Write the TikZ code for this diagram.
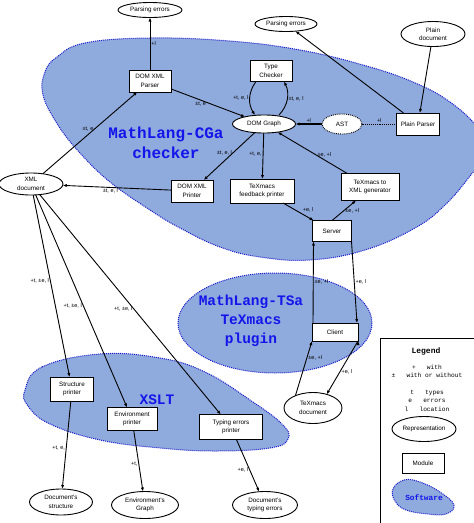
\documentclass[tikz,border=0pt]{standalone}
\usepackage{fontspec}
\setmainfont{Liberation Sans}
\newfontfamily\blobfont{Liberation Mono}
\usepackage{xcolor}
\usetikzlibrary{shapes.geometric,arrows.meta}

\definecolor{blobfill}{RGB}{143,170,220}
\definecolor{blobline}{RGB}{25,25,205}
\definecolor{blobtext}{RGB}{20,20,235}

\begin{document}
\begin{tikzpicture}[x=1pt,y=-1pt,
  rep_node/.style 2 args={ellipse,draw,fill=white,line width=0.9pt,inner sep=0pt,outer sep=0pt,
    minimum width=#1,minimum height=#2,align=center,font=\fontsize{6.3}{8.5}\selectfont},
  mod_node/.style 2 args={rectangle,draw,fill=white,line width=0.9pt,inner sep=0pt,outer sep=0pt,
    minimum width=#1,minimum height=#2,align=center,font=\fontsize{6.3}{8.5}\selectfont},
  soft_blob/.style={draw=blobline,fill=blobfill,densely dotted,line width=1pt},
  blob_text/.style 2 args={text=blobtext,align=center,font=\blobfont\bfseries\fontsize{#1}{#2}\selectfont},
  conn/.style={-{Latex[length=4pt,width=3.2pt]},line width=0.9pt},
  lbl/.style={font=\fontsize{5.5}{6}\selectfont,inner sep=1pt}]

    \clip (0,0) rectangle (474,523);

    % software areas
    \path[soft_blob] plot[smooth cycle,tension=0.7] coordinates {
      (57,57) (85,43) (150,38) (230,41) (300,50) (363,65) (413,82) (450,102)
      (478,128) (488,150) (470,176) (445,205) (415,228) (365,250) (310,260)
      (260,257) (220,247) (180,228) (150,210) (110,182) (80,153) (58,125) (43,95) (45,72)};
    \path[soft_blob] (275,323) ellipse[x radius=97, y radius=50];
    \path[soft_blob] plot[smooth cycle,tension=0.7] coordinates {
      (25,390) (42,367) (100,354) (160,358) (205,372) (250,400) (282,424) (288,439)
      (270,448) (215,451) (160,448) (100,440) (50,424) (28,406)};

    \node[blob_text={16}{20}] (cga_name) at (166,143) {MathLang-CGa\\checker};
    \node[blob_text={14.5}{19}] (tsa_name) at (251,321) {MathLang-TSa\\TeXmacs\\plugin};
    \node[blob_text={14.5}{19}] (xslt_name) at (157,400) {XSLT};

    % representations and modules
    \node[rep_node={64pt}{15pt}] (parse_err_l) at (150,10) {Parsing errors};
    \node[rep_node={62pt}{15pt}] (parse_err_r) at (286,24) {Parsing errors};
    \node[rep_node={64pt}{25pt}] (plain_doc) at (433,34) {Plain\\document};
    \node[mod_node={42pt}{22pt}] (dom_parser) at (150,81) {DOM XML\\Parser};
    \node[mod_node={42pt}{21pt}] (type_check) at (271,71) {Type\\Checker};
    \node[rep_node={63pt}{18pt}] (dom_graph) at (264,124) {DOM Graph};
    \node[rep_node={40pt}{20pt},densely dotted] (ast) at (342,124) {AST};
    \node[mod_node={43pt}{22pt}] (plain_parser) at (418,124) {Plain Parser};
    \node[rep_node={64pt}{22pt}] (xml_doc) at (31,184) {XML\\document};
    \node[mod_node={42pt}{22pt}] (dom_printer) at (192,191) {DOM XML\\Printer};
    \node[mod_node={64pt}{24pt}] (feedback) at (262,191) {TeXmacs\\feedback printer};
    \node[mod_node={58pt}{27pt}] (xml_gen) at (370,187) {TeXmacs to\\XML generator};
    \node[mod_node={39pt}{21pt}] (server) at (332,231) {Server};
    \node[mod_node={46pt}{18pt}] (client) at (335,332) {Client};
    \node[rep_node={58pt}{31pt}] (texmacs_doc) at (313,408) {TeXmacs\\document};
    \node[mod_node={43pt}{24pt}] (struct_pr) at (72,389) {Structure\\printer};
    \node[mod_node={50pt}{23pt}] (env_pr) at (132,419) {Environment\\printer};
    \node[mod_node={63pt}{25pt}] (typing_pr) at (231,427) {Typing errors\\printer};
    \node[rep_node={63pt}{26pt}] (doc_struct) at (61,502) {Document's\\structure};
    \node[rep_node={67pt}{27pt}] (env_graph) at (145,505) {Environment's\\Graph};
    \node[rep_node={65pt}{27pt}] (doc_typing) at (265,505) {Document's\\typing errors};

    \path[draw, conn]
    (dom_parser) edge node[lbl,right] {+l} (parse_err_l)
    (xml_doc) edge node[lbl,left,pos=.55] {±t, e} (dom_parser)
    (dom_parser) edge node[lbl,below,pos=.4] {±t, e} (dom_graph)
    ([xshift=-15pt]type_check.south) edge[bend right=35] node[lbl,left] {+t, e, l} ([xshift=-9pt]dom_graph.north)
    ([xshift=15pt]dom_graph.north) edge[bend right=35] node[lbl,right] {±t, e, l} ([xshift=13pt]type_check.south)
    (ast) edge[line width=1.5pt] node[lbl,above] {+l} (dom_graph)
    (plain_parser) edge[densely dotted,-] node[lbl,above] {+l} (ast)
    (plain_doc) edge (plain_parser)
    (plain_parser) edge (parse_err_r)
    (dom_graph) edge node[lbl,left,pos=.42] {±t, e, l} (dom_printer)
    (dom_graph) edge node[lbl,left,pos=.45] {+t, e,} (feedback)
    (xml_gen) edge node[lbl,above=1pt,pos=.33] {±e, +l} (dom_graph)
    (dom_printer) edge node[lbl,below,pos=.56] {±t, e, l} (xml_doc)
    (feedback) edge node[lbl,above right,pos=.6] {+e, l} (server)
    (server.north) edge node[lbl,right] {±e, +l} ([xshift=-14pt]xml_gen.south)
    ([xshift=1pt]client.north west) edge node[lbl,right] {±e, +l} ([xshift=1pt]server.south west)
    (server.south east) edge node[lbl,right] {+e, l} ([xshift=-1pt]client.north east)
    (texmacs_doc.145) edge node[lbl,right,pos=.7] {±e, +l} (client.south west)
    (client.south east) edge node[lbl,right,pos=.57] {+e, l} (texmacs_doc.45)
    (xml_doc) edge node[lbl,left,pos=.47] {+t, ±e, l} (struct_pr)
    (xml_doc) edge node[lbl,left,pos=.52] {+t, ±e, l} (env_pr)
    (xml_doc) edge node[lbl,left,pos=.52] {+t, ±e, l} (typing_pr)
    (struct_pr) edge node[lbl,left,pos=.53] {+t, e,} (doc_struct)
    (env_pr) edge node[lbl,left,pos=.55] {+t,} (env_graph)
    (typing_pr) edge node[lbl,left,pos=.58] {+e, l} (doc_typing)
    ;

    % legend
    \draw[line width=0.9pt] (380,338) rectangle (480,540);
    \node[font=\blobfont\bfseries\fontsize{8}{9}\selectfont] (legend_title) at (426,351) {Legend};
    \node[align=center,font=\blobfont\fontsize{6.2}{8}\selectfont] (legend_ops) at (427,371) {+~~~with\\±~~~with or without};
    \node[align=center,font=\blobfont\fontsize{6.2}{8.5}\selectfont] (legend_kinds) at (427,400.5) {t~~~types\\e~~~errors\\l~~~location};
    \node[rep_node={64pt}{25pt}] (legend_rep) at (424,429) {Representation};
    \node[mod_node={42pt}{20pt}] (legend_mod) at (423,463) {Module};
    \path[soft_blob] plot[smooth cycle,tension=0.7] coordinates {
      (393,489) (404,480) (420,482) (440,492) (454,505) (446,514) (428,514) (406,510) (395,501)};
    \node[blob_text={7.8}{9}] (legend_soft) at (424,498) {Software};
\end{tikzpicture}
\end{document}
